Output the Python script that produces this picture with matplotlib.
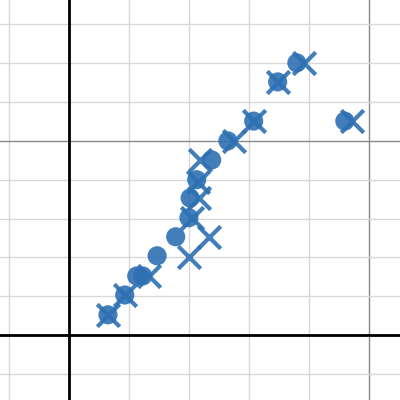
import matplotlib
matplotlib.use("Agg")
import matplotlib.pyplot as plt
import numpy as np

circ_x = [0.65, 0.93, 1.13, 1.23, 1.47, 1.78, 2.0, 2.02, 2.13, 2.38, 2.65, 3.08, 3.48, 3.8, 4.6]
circ_y = [0.52, 1.03, 1.52, 1.52, 2.04, 2.53, 3.02, 3.53, 4.0, 4.51, 5.0, 5.51, 6.52, 7.01, 5.51]
x_x = [0.65, 0.93, 1.33, 2.0, 2.33, 2.05, 2.17, 2.15, 2.18, 2.75, 3.08, 3.48, 3.92, 4.72]
x_y = [0.52, 1.03, 1.52, 2.01, 2.53, 3.02, 3.53, 3.95, 4.51, 5.0, 5.51, 6.52, 7.01, 5.51]

fig = plt.figure(figsize=(4, 4), dpi=100)
ax = fig.add_axes([0, 0, 1, 1])
xmin, xmax = -1.15, 5.52
ymin, ymax = -1.675, 8.63
ax.set_xlim(xmin, xmax)
ax.set_ylim(ymin, ymax)
for v in range(-1, 6):
    ax.axvline(v, color='#888888' if v % 5 == 0 else '#d8d8d8', lw=1, zorder=0)
for v in range(-1, 9):
    ax.axhline(v, color='#888888' if v % 5 == 0 else '#d8d8d8', lw=1, zorder=0)
ax.axvline(0, color='black', lw=2, zorder=1)
ax.axhline(0, color='black', lw=2, zorder=1)
blue = '#2d70b3'
ax.scatter(circ_x, circ_y, s=190, color=blue, alpha=0.9, zorder=3, edgecolors='none')
ax.scatter(x_x, x_y, s=260, marker='x', color=blue, linewidths=3, alpha=0.9, zorder=4)
ax.set_xticks([]); ax.set_yticks([])
for s in ax.spines.values():
    s.set_visible(False)
fig.savefig("out.png", dpi=100)
